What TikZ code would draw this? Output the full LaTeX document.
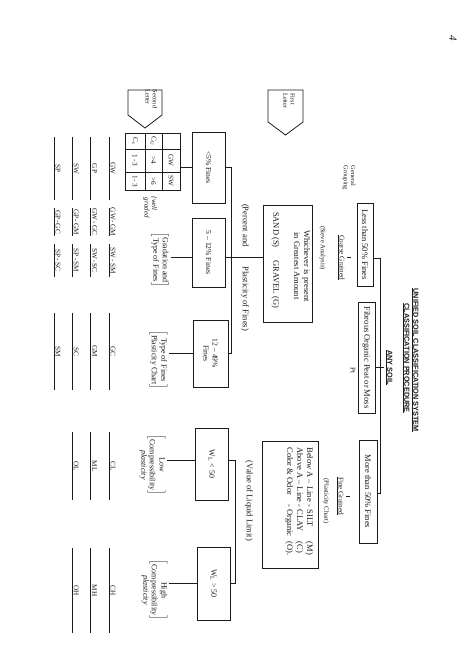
\documentclass[tikz,border=0pt]{standalone}
\usepackage{tikz}
\usepackage{fontspec}
\setmainfont{Liberation Serif}
\newfontfamily\titlefont{Liberation Sans}
\definecolor{ink}{HTML}{1C1C1C}
\begin{document}
\begin{tikzpicture}[x=1pt,y=1pt,
  rt/.style={rotate=-90, inner sep=1pt, outer sep=0pt, text=ink},
  box/.style={rt, draw=ink, line width=0.8pt, align=center},
  conn/.style={draw=ink, line width=0.8pt},
  fA/.style={font=\fontsize{6.3pt}{7.2pt}\selectfont},
  fB/.style={font=\fontsize{6.6pt}{7.6pt}\selectfont},
  fC/.style={font=\fontsize{7.2pt}{8.4pt}\selectfont},
  fD/.style={font=\fontsize{7.6pt}{9pt}\selectfont},
  fE/.style={font=\fontsize{8pt}{9.6pt}\selectfont},
  fF/.style={font=\fontsize{8.5pt}{10pt}\selectfont},
  ttl/.style={rt, font=\titlefont\bfseries\fontsize{7.3pt}{8pt}\selectfont},
  sym/.style={rt, font=\fontsize{7.2pt}{8pt}\selectfont, anchor=south, inner xsep=0pt, inner ysep=1.5pt},
]
\useasboundingbox[fill=white] (0,0) rectangle (474,-670);

% page mark
\node[rt, font=\itshape\fontsize{11pt}{12pt}\selectfont] (pg) at (453,-38) {4};

% title
\node[ttl] (title1) at (415,-360) {\underline{UNIFIED SOIL CLASSIFICATION SYSTEM}};
\node[ttl] (title2) at (406,-358) {\underline{CLASSIFICATION PROCEDURE}};
\node[ttl] (anysoil) at (389,-367.5) {\underline{ANY SOIL}};

% first level
\node[box, fF, minimum width=83pt, minimum height=16pt] (lt) at (365,-244.5) {Less than 50\% Fines};
\node[box, fF, minimum width=111pt, minimum height=17pt] (fib) at (366.5,-357.5) {Fibrous Organic Peat or Moss};
\node[box, fF, minimum width=103pt, minimum height=18pt] (mt) at (368,-491.5) {More than 50\% Fines};
\coordinate (tA) at (380,-258);
\coordinate (tB) at (380,-493);
\draw[conn] (lt.north |- tA) -- (tA) -- (tB) -- (mt.north |- tB);
\draw[conn] (fib.north |- anysoil.south) -- (anysoil.south);

\node[rt, fA, align=left] (gg) at (349,-178) {General\\Grouping};
\node[rt, fC] (cg) at (341,-257.5) {\underline{Coarse Grained}};
\node[rt, fC] (pt) at (353,-370) {Pt};
\node[rt, fC] (fg) at (340,-496) {\underline{Fine Grained}};
\draw[conn, line width=0.6pt] ([xshift=1.5pt]cg.north) -- ++(4,0);
\draw[conn, line width=0.6pt] ([xshift=1.5pt]fg.north) -- ++(4,0);
\node[rt, fB] (sieve) at (322.5,-248) {(Sieve Analysis)};
\node[rt, fB] (plch) at (326,-501) {(Plasticity Chart)};

% sand / gravel box
\node[box, minimum width=117pt, minimum height=49pt] (sand) at (287.5,-263.5) {};
\node[rt, fF, align=center] (sandtx) at (302,-266) {Whichever is present\\in Greatest Amount};
\node[rt, fF] (sandsg) at (275.5,-260) {\makebox[96pt]{SAND (S)\hfill GRAVEL (G)}};

% plasticity box
\node[box, minimum width=127pt, minimum height=56pt] (pla) at (290,-504.5) {};
\node[rt, fF] (platx) at (299,-501.5) {\begin{tabular}{@{}l@{\ }l@{\hspace{5pt}}l@{}}Below A – Line & - SILT & (M)\\Above A – Line & - CLAY & (C)\\Color \& Odor & - Organic & (O).\end{tabular}};

% coarse branch
\node[box, fD, minimum width=71pt, minimum height=33pt] (f1) at (208.5,-167.5) {<5\% Fines};
\node[box, fD, minimum width=69pt, minimum height=33pt] (f2) at (208.5,-252.5) {5 – 12\% Fines};
\node[box, fD, minimum width=67pt, minimum height=35pt] (f3) at (210.5,-353.5) {12 – 49\%\\Fines};
\coordinate (uA) at (231,-167);
\coordinate (uM) at (231,-257);
\coordinate (uB) at (231,-353);
\draw[conn] (f1.north |- uA) -- (uA) -- (uB) -- (f3.north |- uB);
\draw[conn] (f2.north |- uM) -- (sand.south |- uM);
\node[rt, fF] (pct) at (245,-267.5) {(Percent and\hspace{20pt}Plasticity of Fines)};

% fine branch
\node[box, fE, minimum width=72pt, minimum height=33pt] (w1) at (211.5,-464) {W\textsubscript{L} < 50};
\node[box, fE, minimum width=73pt, minimum height=33pt] (w2) at (213.5,-583.5) {W\textsubscript{L} > 50};
\coordinate (vA) at (235,-460);
\coordinate (vB) at (235,-583);
\draw[conn] (w1.north |- vA) -- (vA) -- (vB) -- (w2.north |- vB);
\node[rt, fF] (vll) at (249,-501) {(Value of Liquid Limit)};

% criteria
\node[rt, fE] (gr) at (160,-260) {$\left[\begin{tabular}{@{}c@{}}Gradation and\\Type of Fines\end{tabular}\right]$};
\draw[conn] (f2.south |- uM) -- (gr.north |- uM);
\node[rt, fE] (tf) at (158.5,-360) {$\left[\begin{tabular}{@{}c@{}}Type of Fines\\Plasticity Chart\end{tabular}\right]$};
\draw[conn] (f3.south |- uB) -- (tf.north |- uB);
\node[rt, fE, align=center] (lo) at (153,-465) {$\left[\begin{tabular}{@{}c@{}}Low\\Compressibility\end{tabular}\right]$\\[-1pt]\textit{plasticity}};
\draw[conn] (w1.south |- vA) -- (lo.north |- vA);
\node[rt, fE, align=center] (hi) at (155,-590) {$\left[\begin{tabular}{@{}c@{}}High\\Compressibility\end{tabular}\right]$\\[-1pt]\textit{plasticity}};
\draw[conn] (w2.south |- vB) -- (hi.north |- vB);

% gradation table
\node[draw=ink, line width=0.8pt, minimum width=55pt, minimum height=57pt, inner sep=0pt, outer sep=0pt] (tab) at (152.5,-161.5) {};
\draw[conn] (145,-133) -- (145,-190);
\draw[conn] (162,-133) -- (162,-190);
\draw[conn] (125,-149) -- (180,-149);
\draw[conn] (125,-172) -- (180,-172);
\draw[conn] (f1.south |- uA) -- (tab.east |- uA);
\node[rt, fC] (c12) at (171,-160.5) {GW};
\node[rt, fC] (c13) at (171,-181) {SW};
\node[rt, fC] (c21) at (153.5,-141) {C\textsubscript{U}};
\node[rt, fC] (c22) at (153.5,-160.5) {>4};
\node[rt, fC] (c23) at (153.5,-181) {>6};
\node[rt, fC] (c31) at (135,-141) {C\textsubscript{c}};
\node[rt, fC] (c32) at (135,-160.5) {1\,-\,3};
\node[rt, fC] (c33) at (135,-181) {1\,-\,3};
\node[rt, font=\itshape\fontsize{7pt}{7.6pt}\selectfont, align=left] (wg) at (150,-207) {\{well\\\ graded};

% letter markers
\draw[conn] (268,-90) -- (303,-90) -- (303,-122) -- (285.5,-135) -- (268,-122) -- cycle;
\node[rt, fA, align=left] (fl) at (289,-101) {First\\Letter};
\draw[conn] (128,-90) -- (162,-90) -- (162,-115) -- (145,-128) -- (128,-115) -- cycle;
\node[rt, fA, align=left] (sl) at (151.5,-99) {Second\\Letter};

% group symbols
\foreach \n/\t/\x/\y/\l in {
  gw/GW/109/168.5/63, gp/GP/90.7/168.5/63, sw/SW/72.3/168.5/63, sp/SP/54/168.5/63,
  gwgm/{GW\,-\,GM}/109/222/28, gwgc/{GW\,-\,GC}/90.7/222/28, gpgm/{GP\,-\,GM}/72.3/222/28, gpgc/{GP\,-\,GC}/54/222/28,
  swsm/{SW\,-\,SM}/109/260.5/33, swsc/{SW\,-\,SC}/90.7/260.5/33, spsm/{SP\,-\,SM}/72.3/260.5/33, spsc/{SP\,-\,SC}/54/260.5/33,
  gc/GC/109/351.5/77, gm/GM/90.7/351.5/77, sc/SC/72.3/351.5/77, sm/SM/54/351.5/77,
  cl/CL/109/466/68, ml/ML/90.7/466/68, ol/OL/72.3/466/68,
  ch/CH/109/590.5/85, mh/MH/90.7/590.5/85, oh/OH/72.3/590.5/85}
{
  \node[sym, minimum width=\l pt] (\n) at (\x,-\y) {\t};
  \draw[conn, line width=1pt] (\n.south west) -- (\n.south east);
}
\end{tikzpicture}
\end{document}
